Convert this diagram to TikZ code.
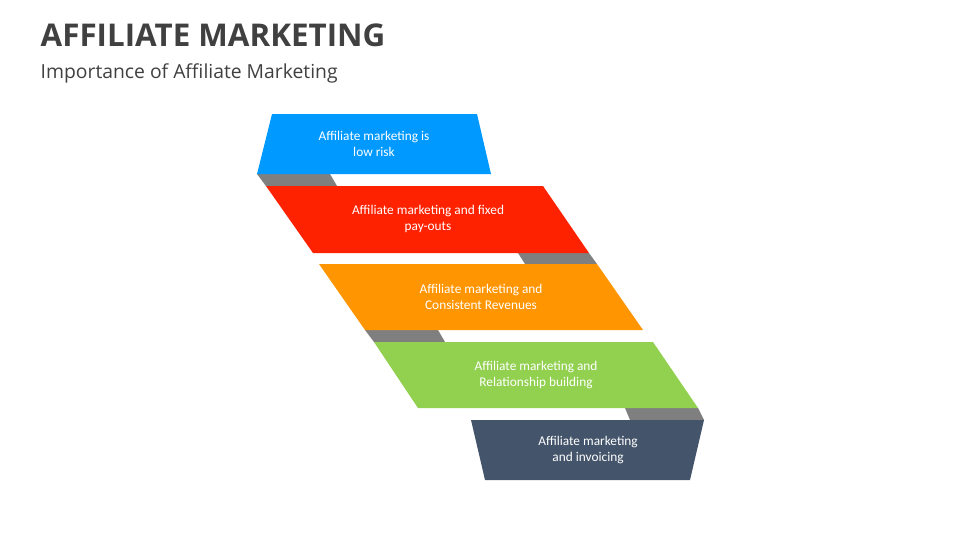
\documentclass[tikz,border=0pt]{standalone}
\usepackage{fontspec}
\setmainfont{Open Sans}
\newfontfamily\boxfont{Carlito}
\definecolor{cblue}{HTML}{0099FF}
\definecolor{cred}{HTML}{FF2200}
\definecolor{corange}{HTML}{FF9500}
\definecolor{cgreen}{HTML}{92D050}
\definecolor{cdark}{HTML}{44546A}
\definecolor{cfold}{HTML}{7F7F7F}
\definecolor{ctitle}{HTML}{404040}
\begin{document}
\begin{tikzpicture}[x=0.75pt,y=-0.75pt,
  lbl/.style={text=white,font=\boxfont\fontsize{10}{12.5}\selectfont,align=center},
  fold/.style={fill=cfold},
  band/.style={draw=none}]
\useasboundingbox (0,0) rectangle (960,540);
\node[anchor=west,text=ctitle,font=\bfseries\fontsize{23.5}{28}\selectfont] (title) at (36,35) {AFFILIATE MARKETING};
\node[anchor=west,text=ctitle,font=\fontsize{14.5}{18}\selectfont] (sub) at (36,73) {Importance of Affiliate Marketing};
% folds
\fill[fold] (257,174) -- (330,174) -- (337,186) -- (266,186) -- cycle;
\fill[fold] (518,253) -- (589,253) -- (597,264) -- (525,264) -- cycle;
\fill[fold] (365,330) -- (438,330) -- (445,342) -- (374,342) -- cycle;
\fill[fold] (625,408) -- (698,408) -- (704,420) -- (630,420) -- cycle;
% bands
\fill[cblue] (272,114) -- (477,114) -- (491,174) -- (257,174) -- cycle;
\fill[cred] (266,186) -- (543,186) -- (589,253) -- (313,253) -- cycle;
\fill[corange] (319,264) -- (597,264) -- (643,330) -- (365,330) -- cycle;
\fill[cgreen] (374,342) -- (653,342) -- (698,408) -- (418,408) -- cycle;
\fill[cdark] (471,420) -- (704,420) -- (690,480) -- (485,480) -- cycle;
\node[lbl] (t1) at (374,144) {Affiliate marketing is\\low risk};
\node[lbl] (t2) at (428,219) {Affiliate marketing and fixed\\pay-outs};
\node[lbl] (t3) at (481,297) {Affiliate marketing and\\Consistent Revenues};
\node[lbl] (t4) at (536,375) {Affiliate marketing and\\Relationship building};
\node[lbl] (t5) at (588,450) {Affiliate marketing\\and invoicing};
\end{tikzpicture}
\end{document}
